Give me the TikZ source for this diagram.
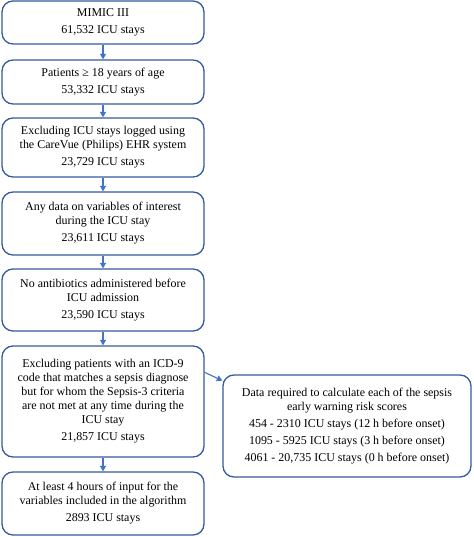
\documentclass[tikz,border=0pt]{standalone}
\usepackage{fontspec}
\setmainfont{Liberation Serif}
\usetikzlibrary{arrows.meta}
\definecolor{bord}{RGB}{52,90,160}
\definecolor{arr}{RGB}{68,114,196}
\tikzset{
  box/.style={draw=bord, line width=1.3bp, rounded corners=11bp, fill=white,
    align=center, font=\fontsize{12}{14}\selectfont, inner sep=0pt},
  conn/.style={draw=arr, line width=1.1bp, -{Triangle[width=6bp,length=5.5bp]}}
}
\begin{document}
\begin{tikzpicture}[x=1bp,y=-1bp]
\useasboundingbox (0,0) rectangle (474,537);
\node[box, minimum width=202bp, minimum height=43bp] (b1) at (103,22.5)
  {MIMIC III\\[3bp]61,532 ICU stays};
\node[box, minimum width=202bp, minimum height=44bp] (b2) at (103,82)
  {Patients ≥ 18 years of age\\[3bp]53,332 ICU stays};
\node[box, minimum width=202bp, minimum height=59bp] (b3) at (103,147.5)
  {Excluding ICU stays logged using\\the CareVue (Philips) EHR system\\[3bp]23,729 ICU stays};
\node[box, minimum width=202bp, minimum height=63bp] (b4) at (103,223.5)
  {Any data on variables of interest\\during the ICU stay\\[3bp]23,611 ICU stays};
\node[box, minimum width=202bp, minimum height=62bp] (b5) at (103,300)
  {No antibiotics administered before\\ICU admission\\[3bp]23,590 ICU stays};
\node[box, minimum width=202bp, minimum height=111bp] (b6) at (103,401.5)
  {Excluding patients with an ICD-9\\code that matches a sepsis diagnose\\but for whom the Sepsis-3 criteria\\are not met at any time during the\\ICU stay\\[3bp]21,857 ICU stays};
\node[box, minimum width=202bp, minimum height=63bp] (b7) at (103,503.5)
  {At least 4 hours of input for the\\variables included in the algorithm\\[3bp]2893 ICU stays};
\node[box, minimum width=248bp, minimum height=102bp] (r) at (347,426)
  {Data required to calculate each of the sepsis\\early warning risk scores\\[3bp]454 - 2310 ICU stays (12 h before onset)\\[3bp]1095 - 5925 ICU stays (3 h before onset)\\[3bp]4061 - 20,735 ICU stays (0 h before onset)};
\draw[conn] (b1) -- (b2);
\draw[conn] (b2) -- (b3);
\draw[conn] (b3) -- (b4);
\draw[conn] (b4) -- (b5);
\draw[conn] (b5) -- (b6);
\draw[conn] (b6) -- (b7);
\draw[conn] (b6.16.3) -- (r.160.1);
\end{tikzpicture}
\end{document}
